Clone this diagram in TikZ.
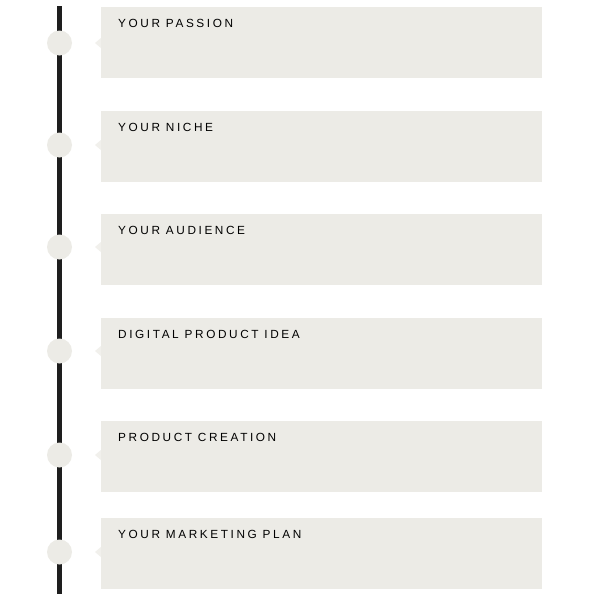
\documentclass[tikz,border=0pt]{standalone}
\usepackage{fontspec}
\setmainfont{Liberation Sans}
\newfontfamily\labelfont[LetterSpace=22]{Liberation Sans}
\definecolor{boxgray}{HTML}{ECEBE6}
\definecolor{tipgray}{HTML}{F1F0EC}
\definecolor{linedark}{HTML}{1E1E1E}
\tikzset{
  panel/.style={fill=boxgray, draw=none},
  dot/.style={circle, fill=boxgray, draw=none, minimum size=25pt, inner sep=0pt},
  tip/.style={fill=tipgray, draw=none},
  steplabel/.style={anchor=west, inner sep=0pt, font=\labelfont\fontsize{11.8}{13}\selectfont, text=black}
}
\begin{document}
\begin{tikzpicture}[x=1pt,y=-1pt]
\useasboundingbox (0,0) rectangle (600,600);
\fill[white] (0,0) rectangle (600,600);
\coordinate (top) at (59.5,6);
\coordinate (bot) at (59.5,594);
\draw[linedark, line width=5pt] (top) -- (bot);
\foreach \i/\t/\b/\c/\txt in {
  1/7/78/43/YOUR PASSION,
  2/111/182/145/YOUR NICHE,
  3/214/285/247/YOUR AUDIENCE,
  4/318/389/351/DIGITAL PRODUCT IDEA,
  5/421/492/455/PRODUCT CREATION,
  6/518/589/552/YOUR MARKETING PLAN}{
  \fill[panel] (101,\t) rectangle (542,\b);
  \fill[tip] (95,\c) -- (101,\c-5) -- (101,\c+5) -- cycle;
  \node[dot] (d\i) at (59.5,\c) {};
  \node[steplabel] (l\i) at (118,\t+16.5) {\txt};
}
\end{tikzpicture}
\end{document}
